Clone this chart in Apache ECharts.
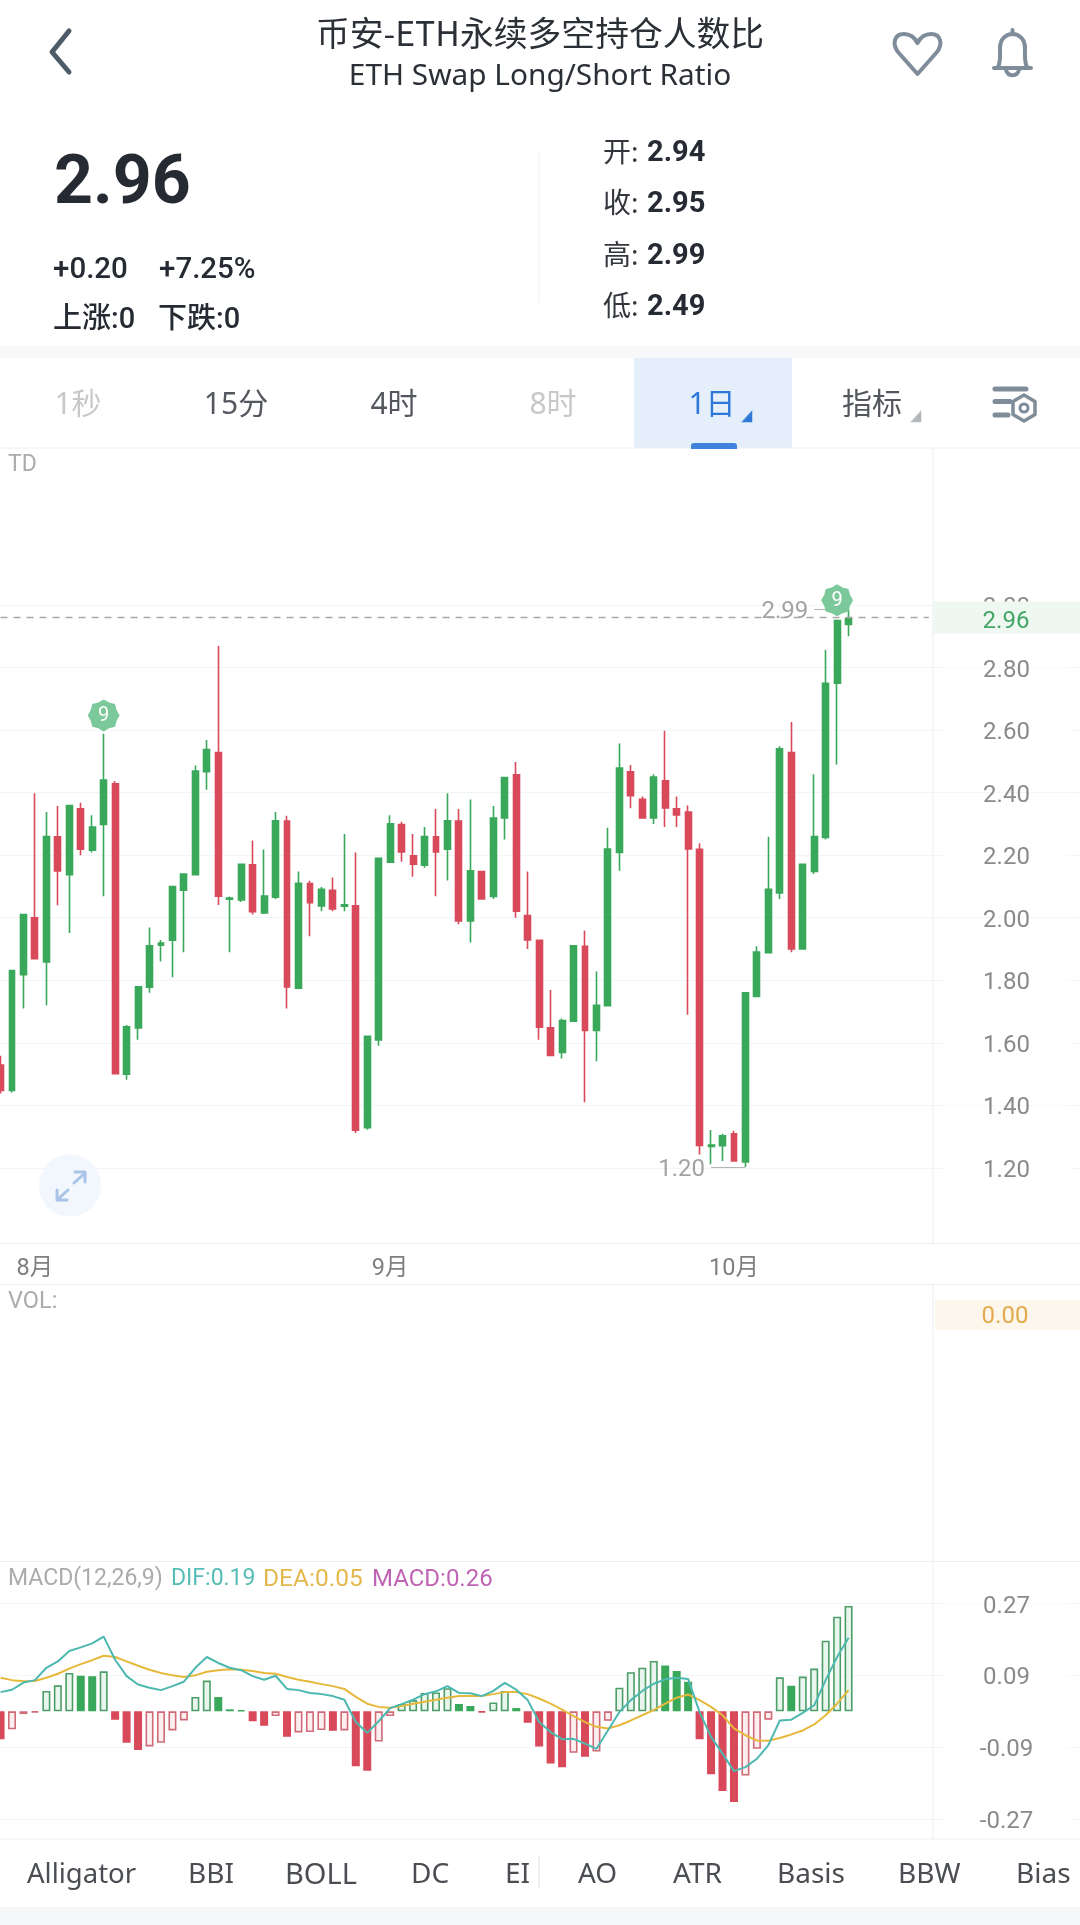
<!DOCTYPE html>
<html><head><meta charset="utf-8">
<style>html,body{margin:0;padding:0;background:#fff}#c{width:1080px;height:1925px}</style>
<script src="https://cdn.jsdelivr.net/npm/echarts@6/dist/echarts.min.js"></script>
</head><body><div id="c"></div>
<script>
const opens=[1.529,1.448,1.818,2.000,1.859,2.259,2.138,2.348,2.216,2.298,
2.428,1.500,1.648,1.778,1.912,1.928,2.088,2.138,2.467,2.528,
2.059,2.057,2.169,2.015,2.066,2.309,1.775,2.109,2.038,2.088,
2.037,2.038,1.329,1.609,2.178,2.298,2.198,2.168,2.259,2.219,
2.309,1.990,2.148,2.068,2.319,2.457,2.007,1.928,1.648,1.569,
1.669,1.909,1.640,1.719,2.209,2.467,2.379,2.319,2.438,2.348,
2.338,2.219,1.269,1.271,1.309,1.219,1.748,1.888,2.079,2.528,
1.900,2.148,2.257,2.750,2.938];
const closes=[1.448,1.831,2.010,1.869,2.260,2.150,2.359,2.219,2.290,2.440,
1.501,1.651,1.779,1.910,1.919,2.100,2.140,2.469,2.538,2.069,
2.063,2.171,2.019,2.069,2.310,1.779,2.110,2.048,2.091,2.028,
2.041,1.321,1.621,2.190,2.300,2.210,2.171,2.260,2.210,2.310,
1.990,2.150,2.060,2.319,2.448,2.021,1.929,1.650,1.560,1.671,
1.910,1.640,1.720,2.220,2.479,2.390,2.319,2.450,2.351,2.329,
2.220,1.272,1.273,1.303,1.222,1.760,1.890,2.091,2.540,1.900,
2.171,2.260,2.750,2.950,2.957];
const lows=[1.438,1.441,1.710,1.869,1.720,2.040,1.951,2.200,2.209,2.069,
1.501,1.482,1.610,1.760,1.860,1.810,1.890,2.138,2.409,2.041,
1.890,2.050,2.010,2.012,2.060,1.710,1.771,1.941,2.021,2.021,
2.021,1.312,1.322,1.591,2.178,2.179,2.131,2.160,2.069,2.119,
1.979,1.921,2.060,2.060,2.250,2.000,1.900,1.610,1.560,1.550,
1.669,1.410,1.541,1.719,2.150,2.350,2.319,2.300,2.290,2.290,
1.690,1.243,1.212,1.222,1.222,1.203,1.748,1.888,2.060,1.890,
1.900,2.140,2.250,2.490,2.900];
const highs=[1.559,1.831,2.010,2.398,2.338,2.357,2.359,2.368,2.328,2.588,
2.437,1.657,1.779,1.969,1.929,2.100,2.140,2.487,2.568,2.869,
2.068,2.171,2.247,2.218,2.338,2.326,2.148,2.118,2.098,2.129,
2.268,2.209,1.621,2.190,2.328,2.307,2.268,2.290,2.348,2.398,
2.348,2.378,2.148,2.357,2.448,2.498,2.148,1.928,1.769,1.678,
1.910,1.959,1.828,2.288,2.557,2.488,2.388,2.459,2.598,2.388,
2.359,2.238,1.321,1.309,1.319,1.760,1.909,2.259,2.548,2.626,
2.171,2.459,2.857,2.954,2.987];
const macdHist=[-0.070,-0.045,-0.007,-0.003,0.051,0.065,0.096,0.089,0.088,0.100,
-0.021,-0.079,-0.097,-0.088,-0.079,-0.048,-0.023,0.036,0.077,0.036,
0.005,0.003,-0.025,-0.036,-0.012,-0.064,-0.053,-0.052,-0.047,-0.049,
-0.048,-0.138,-0.149,-0.076,-0.012,0.018,0.028,0.046,0.047,0.058,
0.018,0.013,-0.003,0.022,0.051,0.008,-0.029,-0.088,-0.131,-0.140,
-0.104,-0.114,-0.101,-0.024,0.059,0.098,0.109,0.126,0.115,0.101,
0.074,-0.070,-0.158,-0.200,-0.227,-0.161,-0.094,-0.021,0.085,0.064,
0.087,0.107,0.177,0.237,0.264];
const dif=[0.048,0.054,0.072,0.078,0.109,0.125,0.151,0.160,0.170,0.187,
0.129,0.088,0.067,0.059,0.053,0.063,0.074,0.109,0.136,0.121,
0.109,0.103,0.088,0.079,0.089,0.056,0.053,0.046,0.043,0.038,
0.029,-0.027,-0.054,-0.025,0.008,0.018,0.029,0.043,0.050,0.063,
0.046,0.045,0.038,0.051,0.071,0.054,0.028,-0.027,-0.052,-0.070,
-0.069,-0.081,-0.094,-0.048,-0.002,0.028,0.051,0.069,0.080,0.084,
0.081,-0.002,-0.064,-0.106,-0.150,-0.140,-0.119,-0.085,-0.023,-0.021,
-0.004,0.015,0.078,0.136,0.184];
const dea=[0.084,0.078,0.075,0.076,0.084,0.094,0.107,0.118,0.128,0.139,
0.136,0.125,0.114,0.104,0.096,0.090,0.086,0.090,0.099,0.103,
0.105,0.104,0.101,0.096,0.094,0.086,0.079,0.074,0.068,0.063,
0.056,0.036,0.019,0.011,0.009,0.013,0.019,0.024,0.029,0.034,
0.038,0.038,0.038,0.043,0.048,0.048,0.043,0.032,0.019,0.004,
-0.012,-0.027,-0.039,-0.043,-0.035,-0.023,-0.010,0.003,0.019,0.034,
0.042,0.028,0.011,-0.010,-0.043,-0.060,-0.073,-0.074,-0.067,-0.058,
-0.048,-0.033,-0.010,0.019,0.053];
const monthLabels=['8月','9月','10月'];
const monthIndex=[3,34,64];
const priceTicks=[1.2,1.4,1.6,1.8,2.0,2.2,2.4,2.6,2.8,3.0];
const macdTicks=[-0.27,-0.09,0.09,0.27];
const badgeIndex=[9,73];
const badgeValue=[2.647,3.015];
const maxLabel=2.99, minLabel=1.20, lastPrice=2.96;

const BAND=11.46, SLOTS=95, LEFT=-5.19;
const categories=new Array(SLOTS).fill('');
monthIndex.forEach((k,i)=>{categories[k]=monthLabels[i]});
const candle=opens.map((o,i)=>[o,closes[i],lows[i],highs[i]]);
const GREEN='#3aa85a',RED='#d8495a';
const histData=macdHist.map((v,i)=>{
  const prev=i?macdHist[i-1]:v; const up=v>=0; const hollow=v>prev;
  return {value:v,itemStyle:{
    color:hollow?(up?'#e9f6ed':'#fdeff0'):(up?GREEN:RED),
    borderColor:hollow?(up?'#4c9d68':'#cf6a76'):(up?GREEN:RED),borderWidth:1.6}};
});
let star='path://';
for(let k=0;k<16;k++){const a=k*Math.PI/8,r=k%2?14:16;
  star+=(k?'L':'M')+(16+r*Math.sin(a)).toFixed(2)+' '+(16-r*Math.cos(a)).toFixed(2)+' ';}
star+='Z';

const FONT='Roboto,"Noto Sans CJK SC"', CJK='"Noto Sans","Noto Sans CJK SC"';
const T=(text,x,y,size,fill,o={})=>({type:'text',x,y,z:o.z||20,silent:true,style:{text,fontSize:size,fontFamily:o.ff||CJK,fontWeight:o.w||'normal',fill,align:o.a||'left',verticalAlign:'middle'}});
const R=(x,y,w,h,fill,o={})=>({type:'rect',z:o.z||1,silent:true,shape:{x,y,width:w,height:h,r:o.r||0},style:{fill}});
const L=(x1,y1,x2,y2,c,w=1.2)=>({type:'line',z:1,silent:true,shape:{x1,y1,x2,y2},style:{stroke:c,lineWidth:w}});
let shapeNo=0;
const P=(d,stroke,w,fill,z)=>{const name='icon'+(shapeNo++);
  echarts.graphic.registerShape(name,echarts.graphic.extendPath(d,{}));
  return {type:name,z:z||20,silent:true,style:{stroke:stroke,lineWidth:w,fill:fill||null,lineCap:'round',lineJoin:'round'}};};
const LINE='#eef0f2';
const graphics=[
 R(0,346,1080,12,'#f7f8fa'), R(634,358,158,90,'#e4effb'), R(691,443,46,6,'#3f83dd',{r:[3,3,0,0],z:3}),
 R(0,1907,1080,18,'#f5f6f8'), R(935,1300,145,30,'#fdf6ec',{z:2}),
 L(0,448,1080,448,LINE),L(0,1284.5,1080,1284.5,LINE),L(0,1561.5,1080,1561.5,LINE),L(0,1839,1080,1839,LINE),
 L(933,448,933,1243,LINE),L(933,1284,933,1839,LINE),L(539,152,539,303,'#f2f3f4'),L(539,1856,539,1888,'#e4e6e8'),
 T('币安-ETH永续多空持仓人数比',540,33,33.8,'#2b2f36',{a:'center',ff:'"Noto Sans CJK SC"'}),
 T('ETH Swap Long/Short Ratio',540,77,29.8,'#2b2f36',{a:'center',ff:'"Noto Sans"'}),
 P('M69 31 L52 52 L69 72','#4d5b69',5),
 P('M917.5 74 L898 52 C892 44 894 34 904 34 C910 34 915 38 917.5 43 C920 38 925 34 931 34 C941 34 943 44 937 52 Z','#7f8c99',4),
 P('M1012.5 30 L1012.5 34 M998 67 C1001 61 1000 53 1000 48 C1000 39 1006 34 1012.5 34 C1019 34 1025 39 1025 48 C1025 53 1024 61 1027 67 M994 68 L1031 68 M1006 70 C1008 77 1017 77 1019 70','#7f8c99',4),
 T('2.96',54,186,68,'#262b33',{w:'bold',ff:FONT}),
 T('+0.20',53,271,29.5,'#262b33',{w:'500',ff:FONT}), T('+7.25%',159,271,29.5,'#262b33',{w:'500',ff:FONT}),
 T('上涨:0',53,321,29,'#262b33',{w:'500',ff:FONT}), T('下跌:0',158,321,29,'#262b33',{w:'500',ff:FONT}),
 T('开:',603,154,28,'#33373d'), T('2.94',647,154,29,'#262b33',{w:'bold',ff:FONT}),
 T('收:',603,205,28,'#33373d'), T('2.95',647,205,29,'#262b33',{w:'bold',ff:FONT}),
 T('高:',603,257,28,'#33373d'), T('2.99',647,257,29,'#262b33',{w:'bold',ff:FONT}),
 T('低:',603,308,28,'#33373d'), T('2.49',647,308,29,'#262b33',{w:'bold',ff:FONT}),
 T('1秒',78,405,30,'#c6c8ca',{a:'center'}),T('15分',236,405,30,'#54585e',{a:'center'}),T('4时',394,405,30,'#54585e',{a:'center'}),
 T('8时',553,405,30,'#c6c8ca',{a:'center'}),T('1日',712,405,30,'#2f78d8',{a:'center'}),T('指标',872,405,30,'#54585e',{a:'center'}),
 P('M752 411 L752 422 L742 422 Z','#2f78d8',0.5,'#2f78d8'), P('M921 411 L921 422 L911 422 Z','#b4b7ba',0.5,'#b4b7ba'),
 P('M995 389 L1026 389 M995 401.5 L1010 401.5 M995 415 L1008 415','#7f8c99',5),
 P('M1024 395 L1035 401.5 L1035 414.5 L1024 421 L1013 414.5 L1013 401.5 Z','#7f8c99',3.5),
 {type:'circle',z:20,silent:true,shape:{cx:1024,cy:408,r:4},style:{fill:null,stroke:'#7f8c99',lineWidth:3}},
 T('TD',8,465,23,'#a9abad',{ff:FONT}),
 {type:'circle',z:30,silent:true,shape:{cx:70,cy:1185.5,r:31},style:{fill:'#f2f6fd'}},
 P('M74 1183 L85 1173 M75 1172 L85 1172 L85 1182 M57 1200 L68 1190 M57 1190 L57 1200 L67 1200','#a9c4e8',3,null,31),
 T('VOL:',8,1302,23.5,'#a9abad',{ff:FONT}), T('0.00',1005,1317,24,'#e2aa4a',{a:'center',ff:FONT}),
 T('MACD(12,26,9)',8,1579.5,23,'#a9abad',{ff:FONT}), T('DIF:0.19',171,1579.5,23,'#55bdb6',{ff:FONT}),
 T('DEA:0.05',263,1579.5,24.5,'#e3b94d',{ff:FONT}), T('MACD:0.26',372,1579.5,24,'#c064b5',{ff:FONT}),
 T('Alligator',27,1875.5,27.5,'#4a4d52'),T('BBI',188,1875.5,28,'#4a4d52'),T('BOLL',285,1875.5,29,'#4a4d52'),T('DC',411,1875.5,28,'#4a4d52'),
 T('EI',505,1875.5,28,'#4a4d52'),T('AO',578,1875.5,28,'#4a4d52'),T('ATR',673,1875.5,28,'#4a4d52'),T('Basis',777,1875.5,28,'#4a4d52'),
 T('BBW',898,1875.5,28,'#4a4d52'),T('Bias',1016,1875.5,28,'#4a4d52')
];
const axisLab=(v)=>({inside:true,margin:77,align:'center',verticalAlign:'top',lineHeight:6,color:'#8a8a8a',fontSize:24,fontFamily:FONT,backgroundColor:'#fff',width:127,customValues:v});
const chart=echarts.init(document.getElementById('c'));
chart.setOption({
 animation:false,backgroundColor:'#fff',
 graphic:graphics,
 grid:[{left:LEFT,top:448,width:BAND*SLOTS,height:795,containLabel:false,outerBoundsMode:'none'},
       {left:LEFT,top:1562,width:BAND*SLOTS,height:277,containLabel:false,outerBoundsMode:'none'}],
 xAxis:[{type:'category',gridIndex:0,data:categories,axisTick:{show:false},axisLine:{lineStyle:{color:LINE,width:1.2}},
   splitLine:{show:false},axisLabel:{interval:0,margin:14,color:'#7f7f7f',fontSize:23.5,fontFamily:FONT,hideOverlap:false}},
   {type:'category',gridIndex:1,data:categories,axisTick:{show:false},axisLine:{show:false},axisLabel:{show:false},splitLine:{show:false}}],
 yAxis:[{type:'value',gridIndex:0,position:'right',min:0.96,max:3.502,axisLine:{show:false},axisTick:{show:false,customValues:priceTicks},
   splitLine:{show:true,lineStyle:{color:'#f1f5f5',width:1.2}},
   axisLabel:Object.assign(axisLab(priceTicks),{formatter:v=>v.toFixed(2)})},
  {type:'value',gridIndex:1,position:'right',min:-0.32,max:0.374,axisLine:{show:false},axisTick:{show:false,customValues:macdTicks},
   splitLine:{show:true,lineStyle:{color:'#f1f5f5',width:1.2}},
   axisLabel:Object.assign(axisLab(macdTicks),{formatter:v=>v.toFixed(2)})}],
 series:[
  {type:'candlestick',xAxisIndex:0,yAxisIndex:0,data:candle,barWidth:6.4,
   itemStyle:{color:GREEN,color0:RED,borderColor:GREEN,borderColor0:RED,borderWidth:1.6},
   markLine:{silent:true,symbol:'none',animation:false,data:[
     [{coord:[0,lastPrice],lineStyle:{color:'#a8a8a8',type:[7,6],width:1.4},label:{show:false}},{coord:[81,lastPrice]}],
     [{coord:[71,highs[74]],lineStyle:{color:'#b5b5b5',type:'solid',width:1.2},label:{show:true,position:'start',formatter:maxLabel.toFixed(2),color:'#a3a3a3',fontSize:24,fontFamily:FONT,distance:6,offset:[0,3]}},{coord:[74,highs[74]]}],
     [{coord:[62,lows[65]],lineStyle:{color:'#b5b5b5',type:'solid',width:1.2},label:{show:true,position:'start',formatter:minLabel.toFixed(2),color:'#a3a3a3',fontSize:24,fontFamily:FONT,distance:6,offset:[0,3]}},{coord:[65,lows[65]]}]
   ]},
   markPoint:{silent:true,animation:false,data:[
     ...badgeIndex.map((k,i)=>({coord:[k,badgeValue[i]],symbol:star,symbolSize:32,itemStyle:{color:'#7bc99a'},label:{show:true,formatter:'9',color:'#fff',fontSize:20,fontFamily:FONT,position:'inside',offset:[0,1]}})),
     {coord:[88,lastPrice],symbol:'rect',symbolSize:[150,32],itemStyle:{color:'#eef8f1'},label:{show:true,formatter:lastPrice.toFixed(2),color:'#43a566',fontSize:24,fontFamily:FONT,position:'inside',offset:[-3,4]}}
   ]}},
  {type:'bar',xAxisIndex:1,yAxisIndex:1,data:histData,barWidth:8},
  {type:'line',xAxisIndex:1,yAxisIndex:1,data:dea,showSymbol:false,symbol:'none',z:4,lineStyle:{color:'#e6b83c',width:2}},
  {type:'line',xAxisIndex:1,yAxisIndex:1,data:dif,showSymbol:false,symbol:'none',z:5,lineStyle:{color:'#4db8b0',width:2}}
 ]
});
</script></body></html>
